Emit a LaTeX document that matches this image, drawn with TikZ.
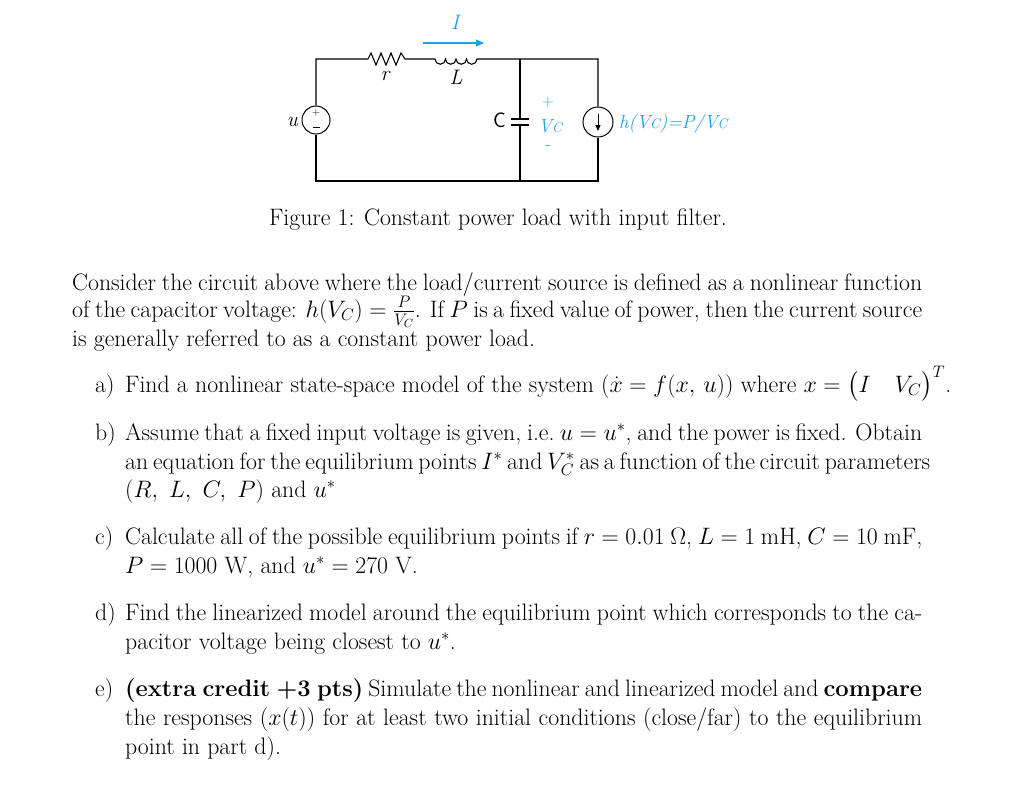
\RequirePackage{fix-cm}
\documentclass[tikz,border=0pt]{standalone}
\usepackage{amsmath}
\usepackage{fontspec}
\usetikzlibrary{arrows.meta}
\definecolor{cblue}{RGB}{30,160,225}
\newcommand{\jl}[2]{\makebox[#1pt][s]{#2}}
\begin{document}
\begin{tikzpicture}[x=1pt,y=-1pt,
  wire/.style={line width=1.1pt},
  body/.style={font=\fontsize{23.8}{29.5}\selectfont,inner sep=0pt,anchor=base west},
  lbl/.style={font=\fontsize{21}{24}\selectfont\itshape,inner sep=0pt},
  blbl/.style={font=\fontsize{19}{22}\itshape,text=cblue,inner sep=0pt}]
\useasboundingbox[fill=white] (0,0) rectangle (1028,804);
% circuit nodes
\coordinate (tl) at (316,59); \coordinate (bl) at (316,181);
\coordinate (tm) at (520,59); \coordinate (bm) at (520,181);
\coordinate (tr) at (598,59); \coordinate (br) at (598,181);
\node[circle,draw,line width=1pt,minimum size=28pt,inner sep=0pt] (src) at (316,120) {};
\node[font=\fontsize{11}{11}\selectfont,inner sep=0pt] at (316,113) {+};
\draw[line width=0.8pt] (312.5,127)--(319.5,127);
\node[circle,draw,line width=1pt,minimum size=30pt,inner sep=0pt] (cs) at (598,122) {};
\draw[line width=1pt,-{Triangle[length=6pt,width=5pt]}] (598,114)--(598,131);
\coordinate (ca) at (520,119); \coordinate (cb) at (520,125);
\draw[wire] (src.north)--(tl)--(368,59)
  --(371,53)--(376,65)--(381,53)--(386,65)--(391,53)--(396,65)--(401,53)--(405,59)
  --(435,59) arc(180:0:5.25) arc(180:0:5.25) arc(180:0:5.25) arc(180:0:5.25) --(tm)--(tr)--(cs.north);
\draw[wire] (src.south)--(bl)--(bm)--(br)--(cs.south);
\draw[wire] (tm)--(ca) (cb)--(bm);
\draw[wire] (511,119)--(529,119) (511,125)--(529,125);
\draw[cblue,line width=1.3pt,-{Triangle[length=8pt,width=7pt]}] (423,43)--(484,43);
\node[lbl,text=cblue] at (455,22) {I};
\node[lbl] at (385,76) {r};
\node[lbl] at (456,77) {L};
\node[lbl,anchor=east] at (298,122) {u};
\node[lbl,anchor=east,font=\fontsize{21}{24}\sffamily] at (506,120) {C};
\node[blbl,font=\fontsize{16}{18}\sffamily] at (548,103) {+};
\node[blbl,font=\fontsize{16}{18}\sffamily] at (548,148) {-};
\node[blbl] at (550,126) {V{\fontsize{14}{14}\selectfont C}};
\node[blbl,anchor=west] at (619,124) {h(V{\fontsize{14}{14}\selectfont C})=P/V{\fontsize{14}{14}\selectfont C}};
% caption
\node[body,anchor=base] (cap) at (498,225) {Figure 1: Constant power load with input filter.};
% paragraph
\node[body] (p1) at (72,290) {\jl{850}{Consider the circuit above where the load/current source is defined as a nonlinear function}};
\node[body] (p2) at (72,317) {\jl{850}{of the capacitor voltage: $h(V_C)=\frac{P}{V_C}$. If $P$ is a fixed value of power, then the current source}};
\node[body] (p3) at (72,346) {is generally referred to as a constant power load.};
% items
\node[body] (la) at (95,392) {a)};
\node[body] (ta) at (125,392) {Find a nonlinear state-space model of the system ($\dot x=f(x,\,u)$) where $x=\bigl(I\quad V_C\bigr)^T$.};
\node[body] (lb) at (95,440) {b)};
\node[body] (tb1) at (125,440) {\jl{797}{Assume that a fixed input voltage is given, i.e.\ $u=u^*$, and the power is fixed. Obtain}};
\node[body] (tb2) at (125,469) {\jl{797}{an equation for the equilibrium points $I^*$ and $V_C^*$ as a function of the circuit parameters}};
\node[body] (tb3) at (125,497) {$(R,\ L,\ C,\ P)$ and $u^*$};
\node[body] (lc) at (95,544) {c)};
\node[body] (tc1) at (125,544) {\jl{797}{Calculate all of the possible equilibrium points if $r=0.01\ \Omega$, $L=1$ mH, $C=10$ mF,}};
\node[body] (tc2) at (125,573) {$P=1000$ W, and $u^*=270$ V.};
\node[body] (ld) at (95,620) {d)};
\node[body] (td1) at (125,620) {\jl{797}{Find the linearized model around the equilibrium point which corresponds to the ca-}};
\node[body] (td2) at (125,649) {pacitor voltage being closest to $u^*$.};
\node[body] (le) at (95,696) {e)};
\node[body] (te1) at (125,696) {\jl{797}{\textbf{(extra credit +3 pts)} Simulate the nonlinear and linearized model and \textbf{compare}}};
\node[body] (te2) at (125,725) {\jl{797}{the responses ($x(t)$) for at least two initial conditions (close/far) to the equilibrium}};
\node[body] (te3) at (125,754) {point in part d).};
\end{tikzpicture}
\end{document}
